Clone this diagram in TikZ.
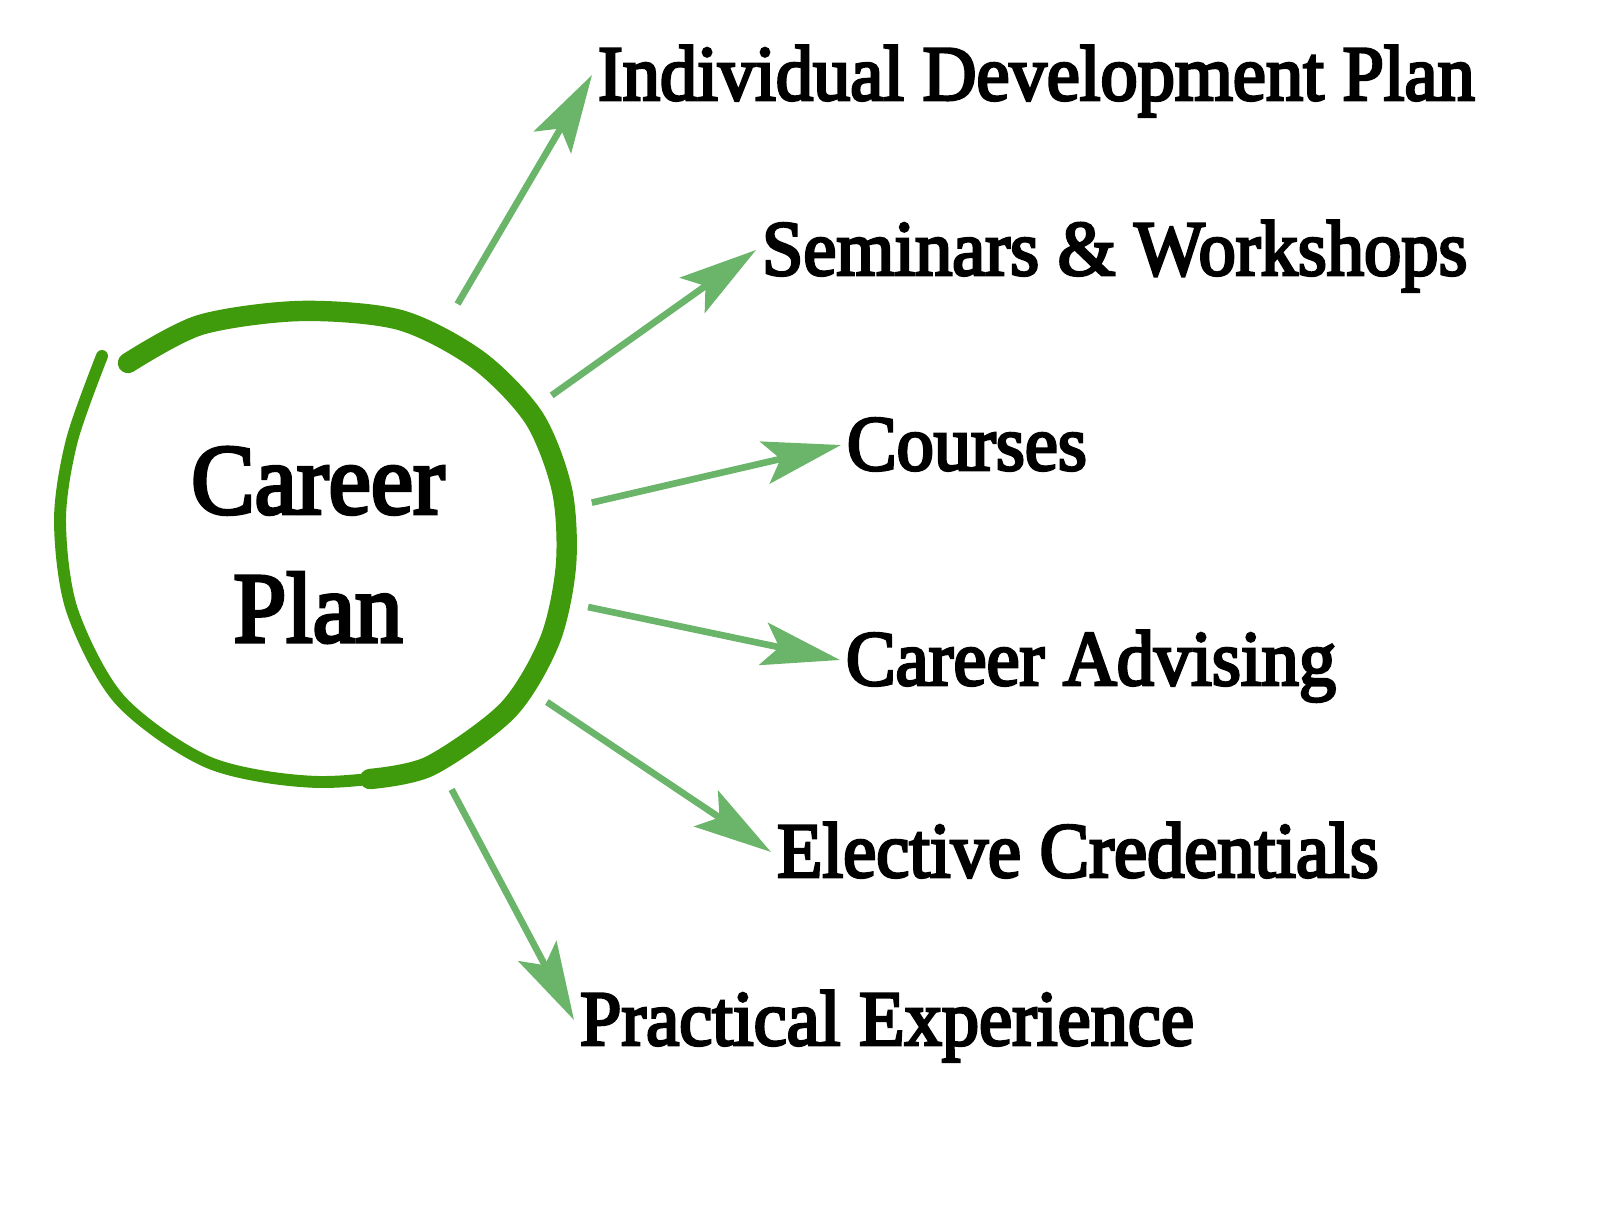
\documentclass[tikz,border=0pt]{standalone}
\usepackage{fontspec}
\setmainfont[FakeBold=3.5,FakeStretch=0.95]{Liberation Serif}
\usepackage{tikz}
\usetikzlibrary{arrows.meta,calc}
\definecolor{RingGreen}{HTML}{3F9B0B}
\definecolor{ArrowGreen}{HTML}{6BB56B}

\begin{document}
\begin{tikzpicture}[
    branch/.style={anchor=west,inner xsep=1.5pt,inner ysep=0pt,text height=0.5cm,text depth=0pt,
      font=\fontsize{22.3}{24}\selectfont},
    spoke/.style={ArrowGreen,line width=1.9pt,-{Stealth[length=7.8mm,width=4.3mm,inset=1.6mm]}}]
    \useasboundingbox (0,0) rectangle (16,12.18);
    \coordinate (plan) at (3.15,6.73);
    % hand drawn ring, thin left side, heavier top
    \draw[RingGreen,line width=3.4pt,line cap=round] plot[smooth] coordinates {
      (1.28,8.55) (2.00,8.93) (3.00,9.07) (4.00,8.98) (4.78,8.58) (5.34,8.00) (5.62,7.28)
      (5.66,6.53) (5.50,5.78) (5.08,5.08) (4.30,4.52) (3.20,4.36) (2.10,4.55) (1.20,5.18)
      (0.72,6.08) (0.60,6.98) (0.72,7.78) (1.02,8.62)};
    \draw[RingGreen,line width=5.8pt,line cap=round] plot[smooth] coordinates {
      (1.28,8.55) (2.00,8.93) (3.00,9.07) (4.00,8.98) (4.78,8.58) (5.34,8.00) (5.62,7.28)
      (5.66,6.53) (5.50,5.78) (5.08,5.08) (4.30,4.52) (3.70,4.39)};
    \node[font=\fontsize{28.5}{36.5}\selectfont,align=center] (title) at ($(plan)+(0.03,0)$) {Career\\Plan};
    % branches
    \foreach \x/\y/\name/\txt in {5.92/11.43/idp/Individual Development Plan,
      7.56/9.68/sem/Seminars \& Workshops,8.41/7.73/crs/Courses,
      8.40/5.58/adv/Career Advising,7.71/3.66/elc/Elective Credentials,
      5.74/1.98/prc/Practical Experience} {
      \node[branch] (\name) at (\x,\y) {\txt};
    }
    \foreach \angle/\name in {59.4/idp,32.3/sem,8.7/crs,-12.8/adv,-34.1/elc,-60.8/prc} {
      \draw[spoke] ($(plan)+(\angle:2.8)$) -- (\name.west);
    }
\end{tikzpicture}
\end{document}
